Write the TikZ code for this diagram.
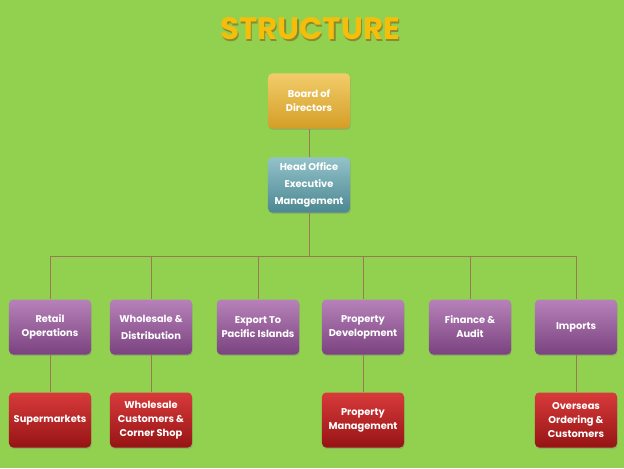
\documentclass[tikz,border=0pt]{standalone}
\usepackage{fontspec}
\setmainfont{Poppins}
\usetikzlibrary{positioning, shadows}
\definecolor{bggreen}{HTML}{92D050}
\definecolor{titlegold}{HTML}{F5BE0B}
\definecolor{titleshade}{HTML}{8A8A30}
\definecolor{linebrown}{HTML}{9A7A55}
\definecolor{goldtop}{HTML}{F2CC6A}
\definecolor{goldbot}{HTML}{D49E26}
\definecolor{tealtop}{HTML}{92C2CA}
\definecolor{tealbot}{HTML}{4C8792}
\definecolor{purptop}{HTML}{B781B9}
\definecolor{purpbot}{HTML}{7A4380}
\definecolor{redtop}{HTML}{D83A3B}
\definecolor{redbot}{HTML}{961414}

\begin{document}
\begin{tikzpicture}[x=0.025cm, y=-0.025cm,
  box/.style={rounded corners=3pt, minimum width=2.05cm, minimum height=1.375cm,
    align=center, text=white, font=\fontsize{7}{10}\selectfont\bfseries,
    drop shadow={opacity=0.35, shadow xshift=0.5pt, shadow yshift=-1pt}},
  board/.style={box, top color=goldtop, bottom color=goldbot},
  exec/.style={box, top color=tealtop, bottom color=tealbot},
  dept/.style={box, top color=purptop, bottom color=purpbot},
  unit/.style={box, top color=redtop, bottom color=redbot},
  link/.style={draw=linebrown, line width=0.6pt}]
\useasboundingbox[fill=bggreen] (0,0) rectangle (624,468);
% title
\node[text=titleshade, font=\fontsize{22}{26}\selectfont\bfseries] at (311.5,30.5) {STRUCTURE};
\node[text=titlegold, font=\fontsize{22}{26}\selectfont\bfseries] at (310,29) (title) {STRUCTURE};
% top of the tree
\node[board] at (309,101) (bod) {Board of\\Directors};
\node[exec, font=\fontsize{7}{12}\selectfont\bfseries] at (309,185) (ho) {Head Office\\Executive\\Management};
\coordinate (bus) at (309,256);
% departments
\node[dept] at (50,327) (retail) {Retail\\Operations};
\node[dept, font=\fontsize{7}{12}\selectfont\bfseries] at (151,327) (whole) {Wholesale \&\\Distribution};
\node[dept] at (258,327) (export) {Export To\\Pacific Islands};
\node[dept] at (363,327) (propdev) {Property\\Development};
\node[dept] at (470,327) (finance) {Finance \&\\Audit};
\node[dept] at (576,327) (imports) {Imports};
% units
\node[unit] at (50,420) (super) {Supermarkets};
\node[unit] at (151,420) (wcust) {Wholesale\\Customers \&\\Corner Shop};
\node[unit] at (363,420) (propman) {Property\\Management};
\node[unit] at (576,420) (overseas) {Overseas\\Ordering \&\\Customers};
% connectors
\draw[link] (bod) -- (ho);
\draw[link] (ho) -- (bus);
\draw[link] (bus) -| (retail);
\draw[link] (bus) -| (whole);
\draw[link] (bus) -| (export);
\draw[link] (bus) -| (propdev);
\draw[link] (bus) -| (finance);
\draw[link] (bus) -| (imports);
\draw[link] (retail) -- (super);
\draw[link] (whole) -- (wcust);
\draw[link] (propdev) -- (propman);
\draw[link] (imports) -- (overseas);
\end{tikzpicture}
\end{document}
